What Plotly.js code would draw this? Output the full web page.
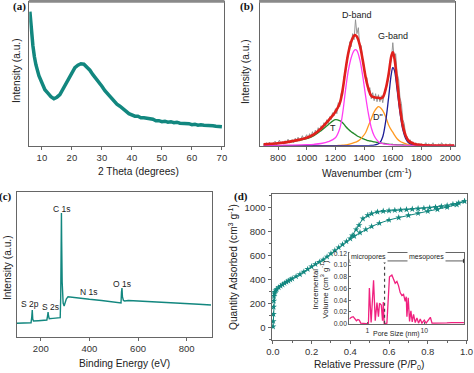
<!DOCTYPE html>
<html><head><meta charset="utf-8">
<script src="https://cdn.plot.ly/plotly-3.0.1.min.js"></script>
<style>html,body{margin:0;padding:0;background:#fff;overflow:hidden}#chart{width:474px;height:373px}</style>
</head><body><div id="chart"></div>
<script>
// ---------- DATA ----------
// (a) XRD
const xrdTheta = [6,6.5,7,7.5,8,9,10,11,12,13,14,15,16,17,18,19,20,21,22,23,24,25,26,27,28,29,30,31,32,33,34,35,36,37,38,39,40,41,42,43,44,45,46,47,48,49,50,51,52,53,54,55,56,57,58,59,60,61,62,63,64,65,66,67,68,69,70];
const xrdIntensity = [134,114,100,89,81,70,62.5,56,52.5,49,47,48.5,51,56.5,61,67.5,72.5,78,80.5,82,81.5,79,75.5,71,67.5,63,59.5,55,51.5,47.5,44.5,41.5,39.5,36.5,34.5,32,30.5,29.5,29.5,28,28,27.5,26.5,26.5,25,25,24,24.5,23.5,24,23,23.5,22.5,22.5,22,22,21,21.5,20.5,21,20.5,20.5,20,20,19.5,19.5,19];

// (b) Raman
const ramanRawShift = [700,710,720,730,740,750,760,770,780,790,800,810,820,830,840,850,860,870,880,890,900,910,920,930,940,950,960,970,980,990,1000,1010,1020,1030,1040,1050,1060,1070,1080,1090,1100,1110,1120,1130,1140,1150,1160,1170,1180,1190,1200,1210,1220,1230,1240,1250,1260,1270,1280,1290,1300,1310,1320,1330,1340,1350,1360,1370,1380,1390,1400,1410,1420,1430,1440,1450,1460,1470,1480,1490,1500,1510,1520,1530,1540,1550,1560,1570,1580,1590,1600,1610,1620,1630,1640,1650,1660,1670,1680,1690,1700,1710,1720,1730,1740,1750,1760,1770,1780,1790,1800,1810,1820,1830,1840,1850,1860,1870,1880,1890,1900,1910,1920,1930,1940,1950,1960,1970,1980,1990,2000,2010,2020,2030];
const ramanRaw = [2,0,3,1,3.5,2,0.5,3,4.5,1, 3,5.5,2,4,1.5,5,3,6.5,2.5,5, 6,3,7.5,5,8.5,4.5,7,10,6,8.5, 11,7,12,9,14,10,15.5,12,18,14, 20,16,23,19.5,26,22,29,26,33,30, 37,32,43,39,52,50,69,72,88,90, 104,99,112,106,126,112,118,99,100,84, 80,66,68,54,58,47,53,45,52,44, 51,44,50,43,52,55,62,68,80,86, 103,87,92,72,67,48,42,26,22,9, 9,4,6,2,4,1,3,0,2,1, 2,0,1,3,0,2,-1,1,3,0, 1,-1,2,0,3,1,-1,2,0,1, 2,0,1,0];
const ramanShift = [700,800,900,1000,1050,1100,1150,1200,1230,1250,1270,1290,1310,1330,1340,1350,1370,1390,1410,1430,1450,1470,1490,1500,1510,1530,1550,1570,1590,1600,1610,1630,1650,1670,1690,1710,1750,1800,1900,2030];
const dBand  = [0.3,0.4,0.6,1,1.4,2.2,4,8,17,32,55,75,88,95,96,95,86,70,50,32,18,10,5.5,4,3,2,1.5,1.1,0.9,0.8,0.7,0.6,0.5,0.4,0.4,0.3,0.3,0.2,0.1,0.1];
const gBand  = [0,0,0,0,0,0,0,0,0,0,0,0,0,0,0,0,0,0,0,0.1,0.3,0.6,1.3,2,3,9,24,47,72,78,76,56,33,16,7,3,0.6,0.1,0,0];
const d2Band = [0,0,0,0,0,0,0,0,0.3,0.5,0.8,1.2,2,3,3.5,4,6,9,13,20,27,34,38,39,38.5,35,29,21,15.5,13.5,11,7,4.5,3,2,1.2,0.5,0.2,0,0];
const tBand  = [1,2,4,7,10,15,21,26,25,23,19.5,16.5,14,12,11,10,8.5,7,6,5,4.5,3.8,3.2,3,2.8,2.4,2,1.6,1.3,1.2,1.1,0.9,0.8,0.7,0.6,0.5,0.4,0.2,0.1,0];
const ramanFit = [1.3,2.4,4.6,8,11.4,17.2,25,34,42.3,55.5,75.3,92.7,104,110,110.5,109,100.5,86,69,57,49.8,48.4,48,48,47.3,48.4,56.5,70.7,89.7,93.5,88.8,64.5,38.8,20.1,10,5,1.8,0.7,0.2,0.1];

// (c) XPS
const bindingEnergy = [100,120,140,160,163,165,167,170,190,210,225,228,230,232,235,250,270,280,282,284,285,286,288,292,296,300,305,312,320,350,400,450,500,525,530,532,534,536,540,545,560,600,650,700,750,800,850,900];
const xpsIntensity = [13.7,13.8,14,14.3,20,27,18,16,16.3,16.8,17,21,25,21,18.3,18.6,19,19.3,40,110,124,95,55,34,31,34,38,40.3,40,39,37.7,36.5,35,33.7,34,45,49,40,36.5,36,36.5,36,35.5,35,34.3,33.7,32.8,32];

// (d) N2 isotherm
const adsP = [0.001,0.002,0.003,0.004,0.005,0.006,0.008,0.01,0.015,0.02,0.03,0.04,0.05,0.06,0.07,0.08,0.09,0.1,0.12,0.14,0.16,0.18,0.2,0.22,0.24,0.26,0.28,0.3,0.32,0.34,0.36,0.38,0.4,0.42,0.45,0.48,0.51,0.55,0.6,0.65,0.7,0.75,0.8,0.85,0.9,0.95,0.99];
const adsQ = [5,50,110,170,220,260,280,294,305,317,332,344,356,367,377,386,396,405,423,441,461,484,506,525,544,563,588,614,640,665,690,715,739,760,789,815,840,867,894,914,933,950,967,983,1000,1022,1050];
const desP = [0.99,0.96,0.93,0.9,0.87,0.84,0.81,0.78,0.75,0.72,0.69,0.66,0.63,0.6,0.57,0.54,0.51,0.49,0.465,0.445,0.43,0.41];
const desQ = [1050,1036,1025,1014,1007,1001,996,992,989,985,981,978,975,972,968,961,947,933,905,850,815,765];

// (d) inset pore size distribution
const poreSize = [0.48,0.52,0.56,0.6,0.64,0.68,0.72,0.76,0.85,0.95,1.04,1.08,1.16,1.28,1.37,1.47,1.56,1.63,1.75,1.84,1.9,1.97,2.2,2.44,2.69,2.88,3.08,3.3,3.52,3.77,4.04,4.32,4.62,4.82,4.95,5.22,5.51,5.82,6.14,6.48,6.94,7.43,7.93,8.5,9.1,10,10.8,12.8,13.7,15,20,25,30,35,40,50];
const poreVolume = [0.008,0.011,0.012,0.009,0.005,0.007,0.006,0.001,0,0,0,0.061,0.002,0.074,0.005,0.036,0.012,0.035,0.032,0.005,0.037,0,0.001,0.080,0.083,0.076,0.069,0.072,0.065,0.053,0.048,0.050,0.038,0.046,0.012,0.044,0.004,0.022,0.003,0.016,0.002,0.010,0.001,0.008,0.001,0.006,0.001,0.011,0.001,0.001,0.002,0.0015,0.002,0.002,0.0015,0.002];
const poreBoundaryNm = 2;          // micropore / mesopore limit
const poreRangeNm = [0.48, 50];
const arrowLevel = 0.107;
const insetYMax = 0.12;

// ---------- LAYOUT ----------
const W = 474, H = 373;
const FONT = 'Liberation Sans, Arial, sans-serif';
const TEAL = '#12877f';
const px = x => x / W, py = y => 1 - y / H;
const box = {
  a: {l: 29.3, r: 224, t: 1.5, b: 145.7},
  b: {l: 259.5, r: 454.5, t: 1.5, b: 145.7},
  c: {l: 16.7, r: 211.7, t: 192, b: 337},
  d: {l: 271.5, r: 466.5, t: 194.3, b: 340},
  i: {l: 349.3, r: 464, t: 253.3, b: 324.3}
};
const dx = b => [px(b.l), px(b.r)];
const dy = b => [py(b.b), py(b.t)];

const axBase = {showline: true, mirror: true, linecolor: '#666', linewidth: 1,
  ticks: 'outside', ticklen: 3, tickcolor: '#666', showgrid: false, zeroline: false,
  tickfont: {family: FONT, size: 9.5, color: '#333'}, fixedrange: true};
const noY = {showticklabels: false, ticks: ''};

const traces = [
  {x: xrdTheta, y: xrdIntensity, xaxis: 'x', yaxis: 'y', mode: 'lines', line: {color: TEAL, width: 3.5}},
  {x: ramanRawShift, y: ramanRaw, xaxis: 'x2', yaxis: 'y2', mode: 'lines', line: {color: '#8c8c8c', width: 0.9}},
  {x: ramanShift, y: tBand, xaxis: 'x2', yaxis: 'y2', mode: 'lines', line: {color: '#22882a', width: 1.3, shape: 'spline'}},
  {x: ramanShift, y: d2Band, xaxis: 'x2', yaxis: 'y2', mode: 'lines', line: {color: '#ff9a22', width: 1.3, shape: 'spline'}},
  {x: ramanShift, y: gBand, xaxis: 'x2', yaxis: 'y2', mode: 'lines', line: {color: '#1c1c96', width: 1.3, shape: 'spline'}},
  {x: ramanShift, y: dBand, xaxis: 'x2', yaxis: 'y2', mode: 'lines', line: {color: '#ff3cf2', width: 1.3, shape: 'spline'}},
  {x: ramanShift, y: ramanFit, xaxis: 'x2', yaxis: 'y2', mode: 'lines', line: {color: '#e0201c', width: 2.6, shape: 'spline'}},
  {x: bindingEnergy, y: xpsIntensity, xaxis: 'x3', yaxis: 'y3', mode: 'lines', line: {color: TEAL, width: 1.4}},
  {x: adsP, y: adsQ, xaxis: 'x4', yaxis: 'y4', mode: 'lines+markers', line: {color: TEAL, width: 1},
    marker: {symbol: 'star', size: 5, color: TEAL}},
  {x: desP, y: desQ, xaxis: 'x4', yaxis: 'y4', mode: 'lines+markers', line: {color: TEAL, width: 1},
    marker: {symbol: 'star', size: 5, color: TEAL}},
  {x: poreSize, y: poreVolume, xaxis: 'x5', yaxis: 'y5', mode: 'lines', line: {color: '#f0217f', width: 1.3}},
  {x: [poreBoundaryNm, poreBoundaryNm], y: [0, insetYMax], xaxis: 'x5', yaxis: 'y5', mode: 'lines',
    line: {color: '#444', width: 1.2, dash: 'dot'}},
  {x: [poreRangeNm[0], poreBoundaryNm], y: [arrowLevel, arrowLevel], xaxis: 'x5', yaxis: 'y5', mode: 'lines+markers',
    line: {color: '#333', width: 0.8}, marker: {symbol: ['triangle-left', 'triangle-right'], size: 4, color: '#333'}},
  {x: [poreBoundaryNm, poreRangeNm[1]], y: [arrowLevel, arrowLevel], xaxis: 'x5', yaxis: 'y5', mode: 'lines+markers',
    line: {color: '#333', width: 0.8}, marker: {symbol: ['triangle-left', 'triangle-right'], size: 4, color: '#333'}}
];

function ann(text, x, y, o = {}) {
  return Object.assign({text, x: px(x), y: py(y), xref: 'paper', yref: 'paper', showarrow: false,
    xanchor: 'center', yanchor: 'middle', font: {family: FONT, size: 10.2, color: '#222'}}, o);
}
function lab(text, x, y, xr, yr, size) {
  return {text, x, y, xref: xr, yref: yr, showarrow: false, xanchor: 'center', yanchor: 'middle',
    font: {family: FONT, size: size || 9, color: '#222'}};
}
const serif = {family: 'Liberation Serif, Times New Roman, serif', size: 11, color: '#111'};
const tiny = s => ({family: FONT, size: s, color: '#222'});

const annotations = [
  ann('<b>(a)</b>', 19, 6.5, {font: serif}),
  ann('<b>(b)</b>', 247, 6.5, {font: serif}),
  ann('<b>(c)</b>', 5.5, 196, {font: serif}),
  ann('<b>(d)</b>', 241, 196, {font: serif}),
  ann('2 Theta (degrees)', 138, 171),
  ann('Intensity (a.u.)', 16, 71, {textangle: -90}),
  ann('Wavenumber (cm<sup>-1</sup>)', 367, 173),
  ann('Intensity (a.u.)', 245, 72, {textangle: -90}),
  ann('Binding Energy (eV)', 124, 363),
  ann('Intensity (a.u.)', 7, 268, {textangle: -90}),
  ann('Relative Pressure (P/P<sub>0</sub>)', 369, 365),
  ann('Quantity Adsorbed (cm<sup>3</sup> g<sup>-1</sup>)', 233, 267, {textangle: -90}),
  ann('Pore Size (nm)', 396, 333.5, {font: tiny(7)}),
  ann('Incremental<br>Volume (cm<sup>3</sup> g<sup>-1</sup>)', 319.5, 289, {textangle: -90, font: tiny(7.8)}),
  ann('micropores', 368.3, 257.2, {font: tiny(7), bgcolor: '#fff'}),
  ann('mesopores', 426.7, 257.2, {font: tiny(7), bgcolor: '#fff'}),
  lab('D-band', 1348, 131, 'x2', 'y2'),
  lab('G-band', 1599, 110, 'x2', 'y2'),
  lab('T', 1183, 18, 'x2', 'y2'),
  lab('D"', 1495, 29, 'x2', 'y2'),
  lab('C 1s', 286, 128, 'x3', 'y3', 8.5),
  lab('S 2p', 157, 33, 'x3', 'y3', 8.5),
  lab('S 2s', 239, 30, 'x3', 'y3', 8.5),
  lab('N 1s', 397, 45, 'x3', 'y3', 8.5),
  lab('O 1s', 536, 53, 'x3', 'y3', 8.5)
];

const shapes = ['a', 'b'].map(k => ({type: 'rect', xref: 'paper', yref: 'paper',
  x0: px(box[k].l - 0.5), x1: px(box[k].r + 0.5), y0: py(2.8), y1: 1, fillcolor: '#8a8a8a', line: {width: 0}}));

const smallTick = {family: FONT, size: 6.8, color: '#333'};
const layout = {
  width: W, height: H, margin: {l: 0, r: 0, t: 0, b: 0}, showlegend: false,
  paper_bgcolor: '#fff', plot_bgcolor: 'rgba(0,0,0,0)',
  xaxis: Object.assign({}, axBase, {domain: dx(box.a), anchor: 'y', range: [5.8, 70.7], tickvals: [10,20,30,40,50,60,70]}),
  yaxis: Object.assign({}, axBase, noY, {domain: dy(box.a), anchor: 'x', range: [0, 144.2]}),
  xaxis2: Object.assign({}, axBase, {domain: dx(box.b), anchor: 'y2', range: [671, 2030], tickvals: [800,1000,1200,1400,1600,1800,2000]}),
  yaxis2: Object.assign({}, axBase, noY, {domain: dy(box.b), anchor: 'x2', range: [0, 144.2]}),
  xaxis3: Object.assign({}, axBase, {domain: dx(box.c), anchor: 'y3', range: [101, 903], tickvals: [200,400,600,800]}),
  yaxis3: Object.assign({}, axBase, noY, {domain: dy(box.c), anchor: 'x3', range: [0, 145]}),
  xaxis4: Object.assign({}, axBase, {domain: dx(box.d), anchor: 'y4', range: [-0.007, 1.0], tick0: 0, dtick: 0.2, tickformat: '.1f',
    minor: {ticks: 'outside', ticklen: 2, dtick: 0.1, tickcolor: '#666'}}),
  yaxis4: Object.assign({}, axBase, {domain: dy(box.d), anchor: 'x4', range: [-106, 1108], tick0: 0, dtick: 200,
    minor: {ticks: 'outside', ticklen: 2, dtick: 100, tickcolor: '#666'}}),
  xaxis5: Object.assign({}, axBase, {domain: dx(box.i), anchor: 'y5', type: 'log', range: [-0.32, 1.70],
    tickvals: [1, 10], ticktext: ['1', '10'], ticks: 'inside', ticklen: 2, tickfont: smallTick}),
  yaxis5: Object.assign({}, axBase, {domain: dy(box.i), anchor: 'x5', range: [-0.001, 0.12], tick0: 0, dtick: 0.02,
    tickformat: '.2f', ticks: 'inside', ticklen: 2, tickfont: smallTick}),
  annotations, shapes
};

Plotly.newPlot('chart', traces, layout, {displayModeBar: false, staticPlot: true});
</script></body></html>
